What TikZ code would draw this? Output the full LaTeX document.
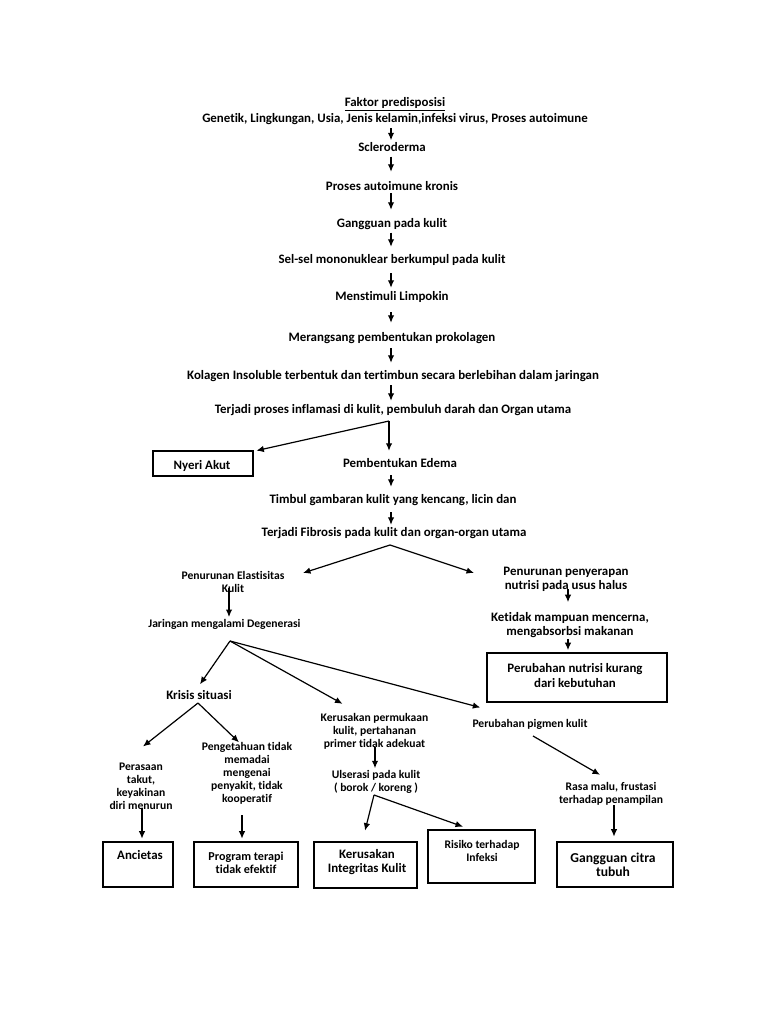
\documentclass[tikz,border=0pt]{standalone}
\usepackage{fontspec}
\setmainfont{Carlito}[Ligatures=NoCommon]
\usetikzlibrary{arrows.meta,calc}
\begin{document}
\begin{tikzpicture}[x=1pt,y=-1pt,
 t/.style={font=\fontsize{12.9}{14}\selectfont\bfseries, inner xsep=2pt, inner ysep=2pt, text height=9pt, text depth=3pt},
 tm/.style={font=\fontsize{12.9}{14}\selectfont\bfseries, align=center, inner sep=2pt},
 s/.style={font=\fontsize{11.6}{13}\selectfont\bfseries, inner xsep=2pt, inner ysep=2pt, text height=8pt, text depth=2.5pt},
 sm/.style={font=\fontsize{11.6}{13}\selectfont\bfseries, align=center, inner sep=2pt},
 arr/.style={-{Latex[length=7.5pt,width=6.5pt]}, line width=1.2pt},
 box/.style={draw, line width=2.7pt, inner sep=0pt},
]
\useasboundingbox (0,0) rectangle (768,1024);
\fill[white] (0,0) rectangle (768,1024);
\coordinate (ax) at (391,0);

% main chain
\node[t] (n0) at (395,103.5) {\underline{Faktor predisposisi}};
\node[t] (n1) at (395,119.5) {Genetik, Lingkungan, Usia, Jenis kelamin,infeksi virus, Proses autoimune};
\node[t] (n2) at (392,148.5) {Scleroderma};
\node[t] (n3) at (392,187.5) {Proses autoimune kronis};
\node[t] (n4) at (392,224.5) {Gangguan pada kulit};
\node[t] (n5) at (392,260.5) {Sel-sel mononuklear berkumpul pada kulit};
\node[t] (n6) at (392,297.5) {Menstimuli Limpokin};
\node[t] (n7) at (392,338.5) {Merangsang pembentukan prokolagen};
\node[t] (n8) at (393,376.5) {Kolagen Insoluble terbentuk dan tertimbun secara berlebihan dalam jaringan};
\node[t] (n9) at (393,410.5) {Terjadi proses inflamasi di kulit, pembuluh darah dan Organ utama};

\foreach \a/\b/\p/\q in {n1/n2/0.5/0, n2/n3/0/7.5, n3/n4/-2.5/6.5, n4/n5/0/5.5, n5/n6/4.5/1.5, n6/n7/6.5/7.5, n7/n8/1.5/5.5, n8/n9/0.5/1.5}
  \draw[arr, shorten <=\p pt, shorten >=\q pt] (\a.south -| ax) -- (\b.north -| ax);

% branch 1
\coordinate (b1) at (389,421);
\node[box, minimum width=100pt, minimum height=25pt] (nyeri) at (203,463.5) {};
\node[t] (nyerit) at (202,466.5) {Nyeri Akut};
\node[t] (n10) at (400,464.5) {Pembentukan Edema};
\draw[arr] (b1) -- ($(nyeri.north east)+(2,1)$);
\draw[arr, shorten >=5.5pt] (b1) -- (n10.north -| b1);

\node[t] (n11) at (393,500.5) {Timbul gambaran kulit yang kencang, licin dan};
\node[t] (n12) at (394,533.5) {Terjadi Fibrosis pada kulit dan organ-organ utama};
\draw[arr, shorten <=2.5pt, shorten >=5.5pt] (n10.south -| ax) -- (n11.north -| ax);
\draw[arr, shorten <=3.5pt, shorten >=0.5pt] (n11.south -| ax) -- (n12.north -| ax);

% branch 2
\coordinate (b2) at (390,545);
\coordinate (e2l) at (303,573);
\coordinate (e2r) at (474,573);
\draw[arr] (b2) -- (e2l);
\draw[arr] (b2) -- (e2r);

\node[sm] (el) at (233,582) {Penurunan Elastisitas\\Kulit};
\node[s] (deg) at (224.5,624.5) {Jaringan mengalami Degenerasi};
\coordinate (elx) at (229,588);
\draw[arr] (elx) -- (deg.north -| elx);

\node[tm] (pen) at (566,579) {Penurunan penyerapan\\nutrisi pada usus halus};
\node[tm] (ket) at (570,625) {Ketidak mampuan mencerna,\\mengabsorbsi makanan};
\node[box, minimum width=180pt, minimum height=49pt] (nut) at (577,677.5) {};
\node[font=\fontsize{12.9}{15}\selectfont\bfseries, align=center, inner sep=2pt] (nutt) at (575,675.5) {Perubahan nutrisi kurang\\dari kebutuhan};
\coordinate (px) at (568,0);
\draw[arr] ($(pen.south -| px)+(0,-4)$) -- ($(ket.north -| px)+(0,-8)$);
\draw[arr] ($(ket.south -| px)+(0,-1)$) -- ($(nut.north -| px)+(0,-1.5)$);

% degenerasi fan
\coordinate (b3) at (230,641);
\node[t] (kri) at (199,696.5) {Krisis situasi};
\node[sm] (krs) at (374.5,731) {Kerusakan permukaan\\kulit, pertahanan\\primer tidak adekuat};
\node[s] (pig) at (530,724.5) {Perubahan pigmen kulit};
\draw[arr] (b3) -- ($(kri.north)+(1,-4)$);
\draw[arr] (b3) -- ($(krs.north)+(-32,-7)$);
\draw[arr] (b3) -- ($(pig.west)+(10,-17)$);

% krisis fan
\coordinate (b4) at (198,703);
\node[sm] (per) at (141,786) {Perasaan\\takut,\\keyakinan\\diri menurun};
\node[sm] (pgt) at (247,773.5) {Pengetahuan tidak\\memadai\\mengenai\\penyakit, tidak\\kooperatif};
\draw[arr] (b4) -- ($(per.north)+(2,-14)$);
\draw[arr] (b4) -- ($(pgt.north)+(-8,2)$);

\node[box, minimum width=70pt, minimum height=45pt] (anc) at (138,864.5) {};
\node[t] (anct) at (140,856.5) {Ancietas};
\node[box, minimum width=104pt, minimum height=45pt] (prg) at (246,864.5) {};
\node[font=\fontsize{12.1}{13}\selectfont\bfseries, align=center, inner sep=2pt] (prgt) at (246,862.5) {Program terapi\\tidak efektif};
\coordinate (s1) at (142,808);
\coordinate (s2) at (242,815);
\draw[arr] (s1) -- ($(anc.north -| s1)+(0,-2)$);
\draw[arr] (s2) -- ($(prg.north -| s2)+(0,-2)$);

% kerusakan
\node[sm] (uls) at (376,782) {Ulserasi pada kulit\\( borok / koreng )};
\coordinate (ux) at (375,0);
\draw[arr] ($(krs.south -| ux)+(0,-4)$) -- (uls.north -| ux);
\coordinate (b5) at (374,795);
\node[box, minimum width=103pt, minimum height=46pt] (kik) at (365.5,865) {};
\node[tm, inner sep=0pt] (kikt) at (367,862.5) {Kerusakan\\Integritas Kulit};
\node[box, minimum width=107pt, minimum height=53pt] (ris) at (481.5,856.5) {};
\node[sm, inner sep=0pt] (rist) at (482,850.5) {Risiko terhadap\\Infeksi};
\draw[arr] (b5) -- ($(kik.north -| 365,0)+(0,-10)$);
\draw[arr] (b5) -- ($(ris.north -| 463,0)+(0,-2)$);

% pigmen
\node[sm] (ras) at (611,793.5) {Rasa malu, frustasi\\terhadap penampilan};
\coordinate (p1) at (533,736);
\draw[arr] (p1) -- ($(ras.north)+(-11,-5)$);
\node[box, minimum width=116pt, minimum height=45pt] (gct) at (615,864.5) {};
\node[font=\fontsize{13.6}{14}\selectfont\bfseries, align=center, inner sep=0pt] (gctt) at (613,864.5) {Gangguan citra\\tubuh};
\coordinate (gx) at (614,0);
\draw[arr] ($(ras.south -| gx)+(0,-2)$) -- ($(gct.north -| gx)+(0,-4)$);
\end{tikzpicture}
\end{document}
